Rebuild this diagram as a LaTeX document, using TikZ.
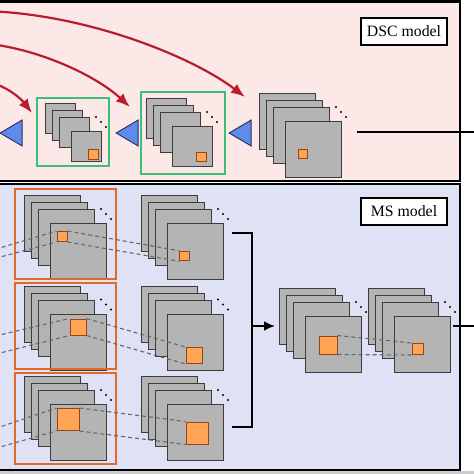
\documentclass[tikz,border=0pt]{standalone}
\usepackage{fontspec}
\setmainfont{Liberation Serif}
\usepackage{tikz}
\usetikzlibrary{shapes.geometric, arrows.meta, positioning, calc}

\definecolor{dscbg}{RGB}{253,232,232}
\definecolor{msbg}{RGB}{223,225,245}
\definecolor{mapgray}{RGB}{180,180,180}
\definecolor{mapline}{RGB}{60,60,60}
\definecolor{patchfill}{RGB}{255,165,85}
\definecolor{patchline}{RGB}{150,70,20}
\definecolor{boxgreen}{RGB}{60,190,120}
\definecolor{boxorange}{RGB}{225,105,40}
\definecolor{poolblue}{RGB}{95,140,235}
\definecolor{poolline}{RGB}{35,45,100}
\definecolor{linkred}{RGB}{185,28,44}
\definecolor{raygray}{RGB}{95,105,118}

\tikzstyle{panel} = [draw=black, line width=2.5pt]
\tikzstyle{fmap} = [rectangle, draw=mapline, fill=mapgray, line width=1pt,
  inner sep=0pt, anchor=north west]
\tikzstyle{patch} = [rectangle, draw=patchline, fill=patchfill, line width=1pt,
  inner sep=0pt]
\tikzstyle{pool} = [isosceles triangle, isosceles triangle stretches,
  shape border rotate=180, draw=poolline, fill=poolblue, line width=0.9pt,
  minimum width=26pt, minimum height=22pt, inner sep=0pt, anchor=apex]
\tikzstyle{modelbox} = [rectangle, draw, fill=white, line width=2pt,
  minimum width=86pt, minimum height=27pt, anchor=north west,
  font=\rmfamily\fontsize{15.8pt}{17pt}\selectfont]
\tikzstyle{greenbox} = [draw=boxgreen, line width=2pt]
\tikzstyle{orangebox} = [draw=boxorange, line width=2.5pt]
\tikzstyle{dsclink} = [draw=linkred, -{Latex[length=14pt,width=11pt]}, line width=2.2pt]
\tikzstyle{ray} = [draw=raygray, dash pattern=on 4pt off 3pt, line width=1.1pt]
\tikzstyle{outline} = [draw, line width=2pt]
\tikzstyle{thinline} = [draw, -{Latex[length=11pt,width=10pt]}, line width=2pt]

% stack of four feature maps: name, x, y of the back map, size
\newcommand{\fstack}[4]{%
  \foreach \i/\dx/\dy in {1/0/0, 2/7/7, 3/14/14, 4/26/28}
    \node[fmap, minimum size=#4pt] (#1\i) at (#2+\dx, #3+\dy) {};
  \foreach \dx/\dy in {6/0, 11/5, 16/10}
    \fill ($(#13.north east)+(\dx,\dy)$) circle (1.1pt);
}

\begin{document}
\begin{tikzpicture}[x=1pt, y=-1pt]

      \useasboundingbox (0,0) rectangle (474,474);
      \clip (0,0) rectangle (474,474);

      %
      % Panels
      %

      \fill[gray!40] (-10,471) rectangle (480,480);
      \path[panel, fill=dscbg] (-10,1.5) rectangle (460,181);
      \path[panel, fill=msbg] (-10,184) rectangle (460,470);
      \node[modelbox] (dsclabel) at (360,17) {DSC model};
      \node[modelbox] (mslabel) at (360,197) {MS model};

      %
      % DSC model
      %

      \node[pool] (pa) at (-1,133) {};
      \fstack{da}{45}{103}{30}
      \node[patch, minimum size=10pt] (dap) at (93,154.5) {};
      \draw[greenbox] (37,98) rectangle (109,166);

      \node[pool] (pb) at (115,133) {};
      \fstack{db}{146}{98}{40}
      \node[patch, minimum size=9.5pt] (dbp) at (201.5,157) {};
      \draw[greenbox] (141,92) rectangle (225,174);

      \node[pool] (pc) at (228,133) {};
      \fstack{dc}{259}{93}{56}
      \node[patch, minimum size=9pt] (dcp) at (302.5,153.5) {};

      \coordinate (sa) at (-10,82);
      \coordinate (ta) at (32,113);
      \coordinate (sb) at (-10,44);
      \coordinate (tb) at (130,107);
      \coordinate (sc) at (-20,11);
      \coordinate (tc) at (245,97);
      \path[dsclink] (sa) .. controls (10,88) and (22,100) .. (ta);
      \path[dsclink] (sb) .. controls (40,50) and (95,75) .. (tb);
      \path[dsclink] (sc) .. controls (80,12) and (190,55) .. (tc);

      \coordinate (dcout) at (357,132);
      \coordinate (dcend) at (480,132);
      \path[outline] (dcout) -- (dcend);

      %
      % MS model
      %

      \fstack{ma}{24}{195}{56}
      \fstack{mb}{24}{285.5}{56}
      \fstack{mc}{24}{376}{56}
      \node[patch, minimum size=10pt] (map) at (62,236.5) {};
      \node[patch, minimum size=16pt] (mbp) at (78,327) {};
      \node[patch, minimum size=22pt] (mcp) at (68,419.5) {};
      \draw[orangebox] (15,189) rectangle (116,279);
      \draw[orangebox] (15,283) rectangle (116,369);
      \draw[orangebox] (15,373) rectangle (116,464);

      \fstack{na}{141}{195}{56}
      \fstack{nb}{141}{285.5}{56}
      \fstack{nc}{141}{376}{56}
      \node[patch, minimum size=9.5pt] (nap) at (184.5,256) {};
      \node[patch, minimum size=16pt] (nbp) at (194,355.5) {};
      \node[patch, minimum size=22pt] (ncp) at (197,433) {};

      \coordinate (ra1) at (-5,249.4);
      \coordinate (ra2) at (-5,258.4);
      \coordinate (rb1) at (-5,336.1);
      \coordinate (rb2) at (-5,354.3);
      \coordinate (rc1) at (-5,428.6);
      \coordinate (rc2) at (-5,448.4);
      \path[ray] (ra1) -- (map.north west);
      \path[ray] (ra2) -- (map.south west);
      \path[ray] (rb1) -- (mbp.north west);
      \path[ray] (rb2) -- (mbp.south west);
      \path[ray] (rc1) -- (mcp.north west);
      \path[ray] (rc2) -- (mcp.south west);
      \path[ray] (map.north east) -- (nap.north west);
      \path[ray] (map.south east) -- (nap.south west);
      \path[ray] (mbp.north east) -- (nbp.north west);
      \path[ray] (mbp.south east) -- (nbp.south west);
      \path[ray] (mcp.north east) -- (ncp.north west);
      \path[ray] (mcp.south east) -- (ncp.south west);

      \coordinate (bt) at (232,233);
      \coordinate (bb) at (232,427);
      \coordinate (bm) at (252,326);
      \coordinate (bin) at (275,326);
      \path[outline] (bt) -- (252,233) -- (252,427) -- (bb);
      \path[thinline] (bm) -- (bin);

      \fstack{sa}{279}{288}{56}
      \fstack{sb}{368}{288}{56}
      \node[patch, minimum size=18pt] (sap) at (328,345) {};
      \node[patch, minimum size=11pt] (sbp) at (417.5,349) {};
      \path[ray] (sap.north east) -- (sbp.north west);
      \path[ray] (sap.south east) -- (sbp.south west);

      \coordinate (sbout) at (453,326);
      \coordinate (sbend) at (480,326);
      \path[outline] (sbout) -- (sbend);

    \end{tikzpicture}
\end{document}
